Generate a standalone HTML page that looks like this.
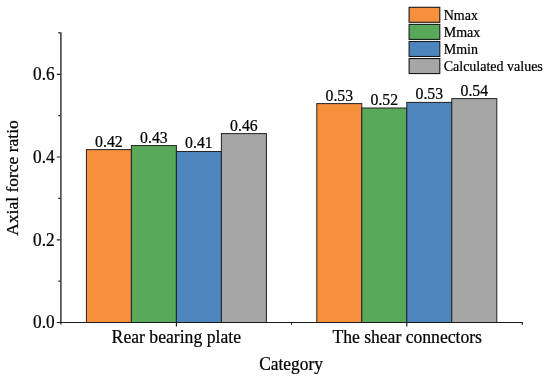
<!DOCTYPE html>
<html><head><meta charset="utf-8"><title>Axial force ratio chart</title>
<style>
html,body{margin:0;padding:0;background:#fff;}
body{width:550px;height:383px;overflow:hidden;}
svg{display:block;}
text{font-family:"Liberation Serif","Times New Roman",serif;fill:#000;stroke:#000;stroke-width:0.22px;}
</style></head><body>
<svg width="550" height="383" viewBox="0 0 550 383">
<rect width="550" height="383" fill="#fff"/>
<!-- bars -->
<g stroke="#222" stroke-width="1">
<rect x="86.4" y="149.6" width="45" height="172.9" fill="#F7903D"/>
<rect x="131.4" y="145.6" width="45" height="176.9" fill="#59A95A"/>
<rect x="176.4" y="151.5" width="45" height="171" fill="#4D85BD"/>
<rect x="221.4" y="133.6" width="45" height="188.9" fill="#A6A6A6"/>
<rect x="316.8" y="103.6" width="45" height="218.9" fill="#F7903D"/>
<rect x="361.8" y="108" width="45" height="214.5" fill="#59A95A"/>
<rect x="406.8" y="102.4" width="45" height="220.1" fill="#4D85BD"/>
<rect x="451.8" y="98.6" width="45" height="223.9" fill="#A6A6A6"/>
</g>
<!-- axes -->
<g stroke="#1a1a1a" fill="none">
<path stroke-width="1.4" stroke="#2a2a2a" d="M60.9 32.3V324.6"/>
<path stroke-width="1.15" d="M60.2 322.5H522.9"/>
<g stroke-width="1.15">
<path d="M56.8 322.5H60.3M56.8 239.8H60.3M56.8 157H60.3M56.8 74.3H60.3"/>
<path d="M58.4 281.1H60.3M58.4 198.4H60.3M58.4 115.65H60.3M58.2 32.9H60.3"/>
<path d="M176.4 322.5V326.4M406.8 322.5V326.4"/>
<path d="M291.5 322.5V324.8M522.3 322.5V324.8"/>
</g>
</g>
<!-- y tick labels -->
<g font-size="17.3" text-anchor="end">
<text transform="translate(54.6 328.4) scale(1 1.08)">0.0</text>
<text transform="translate(54.6 245.6) scale(1 1.08)">0.2</text>
<text transform="translate(54.6 162.7) scale(1 1.08)">0.4</text>
<text transform="translate(54.6 79.9) scale(1 1.08)">0.6</text>
</g>
<!-- bar labels -->
<g font-size="15.8" text-anchor="middle">
<text transform="translate(108.9 146.5) scale(1 1.05)">0.42</text>
<text transform="translate(153.9 142.5) scale(1 1.05)">0.43</text>
<text transform="translate(198.9 148.4) scale(1 1.05)">0.41</text>
<text transform="translate(243.9 130.5) scale(1 1.05)">0.46</text>
<text transform="translate(339.3 100.5) scale(1 1.05)">0.53</text>
<text transform="translate(384.3 104.9) scale(1 1.05)">0.52</text>
<text transform="translate(429.3 99.3) scale(1 1.05)">0.53</text>
<text transform="translate(474.3 95.5) scale(1 1.05)">0.54</text>
</g>
<!-- category labels -->
<g font-size="17.4" text-anchor="middle">
<text font-size="17.66" transform="translate(176.3 342.8) scale(1 1.05)">Rear bearing plate</text>
<text font-size="17.62" transform="translate(407.15 342.9) scale(1 1.05)">The shear connectors</text>
<text transform="translate(291.1 369.6) scale(1 1.04)">Category</text>
<text transform="translate(18.4 178) rotate(-90)" font-size="17.5">Axial force ratio</text>
</g>
<!-- legend -->
<g stroke="#1a1a1a" stroke-width="1.1">
<rect x="409.1" y="7.3" width="30.7" height="15" fill="#F7903D"/>
<rect x="409.1" y="24.4" width="30.7" height="15" fill="#59A95A"/>
<rect x="409.1" y="41.5" width="30.7" height="15" fill="#4D85BD"/>
<rect x="409.1" y="58.55" width="30.7" height="15" fill="#A6A6A6"/>
</g>
<g font-size="14">
<text x="443.7" y="19.9">Nmax</text>
<text x="443.7" y="37">Mmax</text>
<text x="443.7" y="54.1">Mmin</text>
<text x="443.7" y="71.2">Calculated values</text>
</g>
</svg>
</body></html>
